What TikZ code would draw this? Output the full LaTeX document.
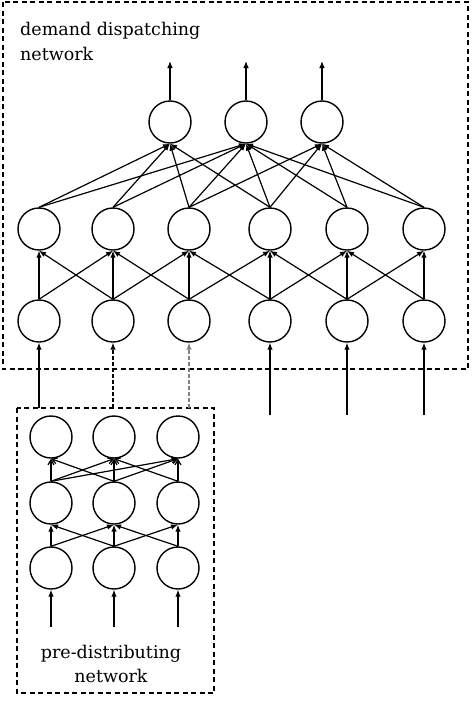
\documentclass[tikz,border=0pt]{standalone}
\usepackage{fontspec}
\setmainfont{DejaVu Serif}
\usetikzlibrary{arrows.meta}
\tikzset{
  neuron/.style={circle,draw,line width=1.4pt,minimum size=42pt,inner sep=0pt},
  link/.style={line width=1.2pt,-{Latex[length=7pt,width=5.5pt]}},
  openlink/.style={line width=1.2pt,-{Straight Barb[length=5pt,width=6pt]}},
  netbox/.style={draw,line width=1.4pt,dash pattern=on 5pt off 3.5pt},
  label/.style={font=\fontsize{17.5}{20}\selectfont,inner sep=0pt}
}
\begin{document}
\begin{tikzpicture}[x=1pt,y=-1pt]
\useasboundingbox (0,0) rectangle (474,705);
% boxes
\draw[netbox] (3,2) rectangle (468,369);
\draw[netbox] (17,408) rectangle (214,693);
% labels
\node[label,anchor=base west] (t1) at (20,35) {demand dispatching};
\node[label,anchor=base west] (t2) at (20,60) {network};
\node[label,anchor=base] (t3) at (111,658) {pre-distributing};
\node[label,anchor=base] (t4) at (111,682) {network};
% demand dispatching network
\foreach \i/\x in {1/170,2/246,3/322} {
  \node[neuron] (O\i) at (\x,122) {};
  \coordinate (OT\i) at (\x,61);
  \draw[link] (O\i.north) -- (OT\i);
}
\foreach \i/\x in {1/39,2/113,3/189,4/270,5/347,6/424} {
  \node[neuron] (H\i) at (\x,229) {};
  \node[neuron] (I\i) at (\x,321) {};
}
% input -> hidden
\foreach \i in {1,...,6} {
  \draw[link] (I\i.north) -- (H\i.south);
}
\foreach \a/\b in {1/2,2/3,3/4,4/5,5/6} {
  \draw[link] (I\a.north) -- (H\b.south);
  \draw[link] (I\b.north) -- (H\a.south);
}
% hidden -> output
\foreach \h in {1,2,3,4} { \draw[link] (H\h.north) -- (O1.south); }
\foreach \h in {1,...,6} { \draw[link] (H\h.north) -- (O2.south); }
\foreach \h in {3,4,5,6} { \draw[link] (H\h.north) -- (O3.south); }
% pre-distributing network
\foreach \i/\x in {1/51,2/114,3/178} {
  \node[neuron] (T\i) at (\x,437) {};
  \node[neuron] (M\i) at (\x,503) {};
  \node[neuron] (B\i) at (\x,568) {};
  \coordinate (BI\i) at (\x,627);
  \draw[link] (BI\i) -- (B\i.south);
  \draw[link] (B\i.north) -- (M\i.south);
  \draw[openlink] (M\i.north) -- (T\i.south);
}
\draw[link] (B1.north) -- (M2.south);
\draw[link] (B2.north) -- (M1.south);
\draw[link] (B2.north) -- (M3.south);
\draw[link] (B3.north) -- (M2.south);
\draw[openlink] (M1.north) -- (T2.south);
\draw[openlink] (M1.north) -- (T3.south);
\draw[openlink] (M2.north) -- (T1.south);
\draw[openlink] (M2.north) -- (T3.south);
\draw[openlink] (M3.north) -- (T2.south);
% feeds into demand network inputs
\coordinate (F1) at (39,408);
\coordinate (F2) at (113,408);
\coordinate (F3) at (189,408);
\coordinate (F4) at (270,415);
\coordinate (F5) at (347,415);
\coordinate (F6) at (424,415);
\draw[link] (F1) -- (I1.south);
\draw[link,dash pattern=on 4pt off 2pt] (F2) -- (I2.south);
\draw[link,gray,dash pattern=on 4pt off 2pt] (F3) -- (I3.south);
\draw[link] (F4) -- (I4.south);
\draw[link] (F5) -- (I5.south);
\draw[link] (F6) -- (I6.south);
\end{tikzpicture}
\end{document}
